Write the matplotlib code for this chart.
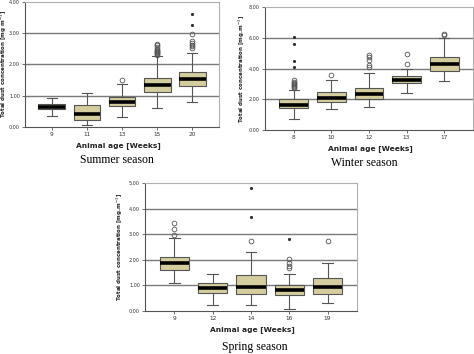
import matplotlib
matplotlib.use("Agg")
import matplotlib.pyplot as plt

# ---------------- data ----------------
summer_weeks = ["9", "11", "13", "15", "20"]
summer_wlo = [0.36, 0.06, 0.32, 0.59, 0.80]
summer_q1 = [0.56, 0.23, 0.66, 1.12, 1.30]
summer_med = [0.625, 0.43, 0.80, 1.34, 1.53]
summer_q3 = [0.72, 0.71, 0.97, 1.57, 1.74]
summer_whi = [0.925, 1.085, 1.36, 2.25, 2.35]
summer_circles = [[], [], [1.49],
                  [2.28, 2.32, 2.35, 2.38, 2.40, 2.43, 2.46, 2.50, 2.55, 2.60, 2.65],
                  [2.53, 2.58, 2.62, 2.67, 2.75, 2.97]]
summer_stars = [[], [], [], [], [3.24, 3.60]]

winter_weeks = ["8", "10", "12", "13", "17"]
winter_wlo = [0.72, 1.39, 1.50, 2.41, 3.17]
winter_q1 = [1.41, 1.84, 2.02, 3.04, 3.86]
winter_med = [1.65, 2.10, 2.36, 3.25, 4.30]
winter_q3 = [2.00, 2.47, 2.75, 3.51, 4.75]
winter_whi = [2.60, 3.25, 3.69, 3.95, 6.00]
winter_circles = [[2.71, 2.78, 2.85, 2.92, 3.00, 3.08, 3.15, 3.25],
                  [3.60], [4.12, 4.23, 4.55, 4.77, 4.88], [4.27, 4.95], [6.16, 6.27]]
winter_stars = [[4.12, 4.47, 5.60, 6.07], [], [], [], []]

spring_weeks = ["9", "12", "14", "16", "19"]
spring_wlo = [1.08, 0.23, 0.23, 0.08, 0.33]
spring_q1 = [1.59, 0.69, 0.68, 0.63, 0.68]
spring_med = [1.87, 0.89, 0.95, 0.82, 0.94]
spring_q3 = [2.11, 1.08, 1.41, 1.02, 1.27]
spring_whi = [2.87, 1.45, 2.32, 1.44, 1.88]
spring_circles = [[2.96, 3.20, 3.43], [], [2.72], [1.67, 1.75, 1.89, 2.02], [2.75]]
spring_stars = [[], [], [3.67, 4.79], [2.82], []]

W, H = 474, 354
fig = plt.figure(figsize=(W / 100, H / 100), dpi=100)

BOX = "#d4cd9e"
EDGE = "#555555"
GRID = "#7a7a7a"


def panel(rect_px, weeks, wlo, q1, med, q3, whi, circles, stars, ymax, ystep,
          ylabel, xlabel_xy, caption, caption_xy, ylabel_x):
    l, r, t, b = rect_px
    ax = fig.add_axes([l / W, 1 - b / H, (r - l) / W, (b - t) / H])
    stats = []
    for i in range(len(weeks)):
        stats.append(dict(whislo=wlo[i], q1=q1[i], med=med[i], q3=q3[i],
                          whishi=whi[i], fliers=circles[i], label=weeks[i]))
    pos = list(range(len(weeks)))
    ax.bxp(stats, positions=pos, widths=0.77, patch_artist=True,
           boxprops=dict(facecolor=BOX, edgecolor=EDGE, linewidth=0.8),
           medianprops=dict(color="black", linewidth=2.6, solid_capstyle="butt"),
           whiskerprops=dict(color=EDGE, linewidth=0.8),
           capprops=dict(color=EDGE, linewidth=0.8),
           capwidths=0.28,
           flierprops=dict(marker="o", markersize=3.4, markerfacecolor="none",
                           markeredgecolor="#555555", markeredgewidth=0.6),
           zorder=3)
    for i, s in enumerate(stars):
        if s:
            ax.plot([pos[i]] * len(s), s, linestyle="none", marker="*",
                    markersize=1.8, color="#333333", zorder=4)
    ax.set_xlim(-0.77, len(weeks) - 0.23)
    ax.set_ylim(0, ymax)
    ticks = [ystep * k for k in range(int(round(ymax / ystep)) + 1)]
    ax.set_yticks(ticks)
    ax.set_yticklabels(["%.2f" % v for v in ticks], fontsize=3.5, color="#333333")
    ax.set_xticks(pos)
    ax.set_xticklabels(weeks, fontsize=4.2, color="#333333")
    for v in ticks[1:-1]:
        ax.axhline(v, color=GRID, linewidth=1.0, zorder=1)
    ax.tick_params(axis="both", length=2.5, width=0.6, color="#555555", pad=1.2)
    for side in ["left", "bottom"]:
        ax.spines[side].set_color("#555555")
        ax.spines[side].set_linewidth(0.8)
    for side in ["top", "right"]:
        ax.spines[side].set_color("#b0b0b0")
        ax.spines[side].set_linewidth(0.8)
    fig.text(ylabel_x / W, 1 - ((t + b) / 2) / H, ylabel, rotation=90,
             ha="center", va="center", fontsize=4.0, fontweight="bold", color="#222222")
    fig.text(xlabel_xy[0] / W, 1 - xlabel_xy[1] / H, "Animal age [Weeks]",
             ha="center", va="center", fontsize=5.4, fontweight="bold", color="#222222")
    fig.text(caption_xy[0] / W, 1 - caption_xy[1] / H, caption,
             ha="center", va="center", fontsize=8.5, family="Liberation Serif")
    return ax


panel((25, 219, 1.5, 127), summer_weeks, summer_wlo, summer_q1, summer_med,
      summer_q3, summer_whi, summer_circles, summer_stars, 4.0, 1.0,
      "Total dust concentration [mg m$^{-3}$]", (118, 146), "Summer season",
      (117, 160), 4.2)
panel((265, 473, 7, 130), winter_weeks, winter_wlo, winter_q1, winter_med,
      winter_q3, winter_whi, winter_circles, winter_stars, 8.0, 2.0,
      "Total dust concentration [mg.m$^{-3}$]", (370, 149), "Winter season",
      (364, 163), 242)
panel((145, 357, 183, 311), spring_weeks, spring_wlo, spring_q1, spring_med,
      spring_q3, spring_whi, spring_circles, spring_stars, 5.0, 1.0,
      "Total dust concentration [mg.m$^{-3}$]", (252, 330), "Spring season",
      (255, 347), 120)

fig.savefig("out.png", dpi=100)
